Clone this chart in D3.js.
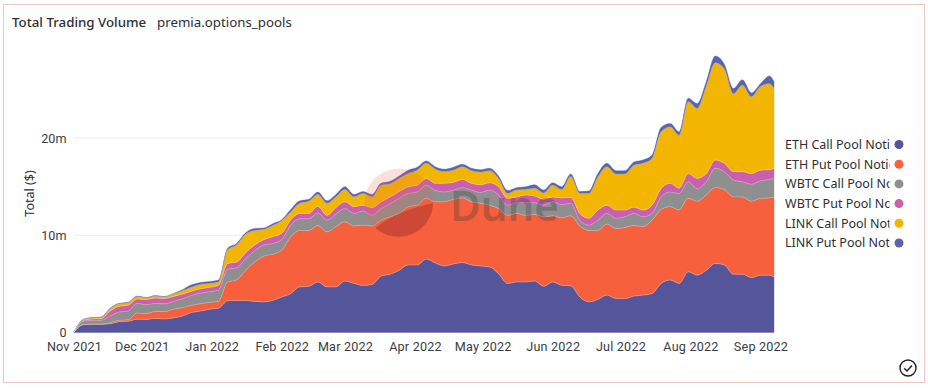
<!DOCTYPE html>
<html>
<head>
<meta charset="utf-8">
<script src="https://cdn.jsdelivr.net/npm/d3@7"></script>
<style>
  html, body { margin: 0; padding: 0; background: #fff; }
  text { font-family: "Noto Sans", sans-serif; fill: #2c2f33; }
</style>
</head>
<body>
<svg id="chart" width="928" height="388"></svg>
<script>
const names = ['ETH Call Pool Notional', 'ETH Put Pool Notional', 'WBTC Call Pool Notional', 'WBTC Put Pool Notional', 'LINK Call Pool Notional', 'LINK Put Pool Notional'];
const colors = ['#55559b', '#f6603d', '#8f8f8f', '#c95fae', '#f2b600', '#5a63ad'];

// sampled every 4 days from the picture, in millions
const ethCall = [.05,.8,.85,.85,.9,1.1,1.15,1.37,1.35,1.45,1.4,1.5,1.7,2.05,2.2,2.4,2.5,3.26,3.3,3.3,3.2,3.15,3.3,3.65,4,4.7,4.75,5.2,4.7,4.7,5.3,5.05,4.85,4.95,5.8,6,6.4,6.95,6.95,7.55,7.15,6.85,7.05,7.2,6.95,6.85,6.75,6.05,5.05,5.2,5.2,5.3,4.75,5.2,4.85,4.8,3.65,3.15,3.4,3.85,3.5,3.5,3.75,3.85,4,5.05,5.4,5.05,6.25,5.9,6.4,7.1,6.95,6,6,5.65,5.9,5.9,5.7];
const ethPut = [0,0,0,0,.1,.15,.15,.63,.6,.7,.75,.9,.85,.75,.75,.7,.7,1.94,2.1,3.1,4.05,4.7,4.75,4.8,5.85,5.8,5.75,5.8,5.65,6.2,6.1,5.9,6.2,6,5.75,5.9,5.85,6,6.15,6.25,6.3,6.6,6.65,6.65,6.5,6.45,6.35,6.7,7,7.05,6.85,6.85,7.15,6.8,6.95,7.2,7.3,7.35,7.1,7.3,7.2,7.3,7.25,7.05,7.55,7.6,7.55,7.55,7.55,7.6,7.75,7.8,7.75,7.95,7.95,7.85,7.9,7.95,8.25];
const wbtcCall = [0,.35,.4,.4,.7,.85,.9,1,.9,.85,.8,.8,.9,1,1.1,1.1,1.15,1.3,1.25,1.2,1.15,1.15,1.1,1.1,1.2,1.2,1.2,1.3,1.2,1.3,1.35,1.3,1.45,1.1,1.2,1.35,1.55,1.35,1.35,1.35,1.15,1,.95,1.05,1.2,1.1,1.55,1.4,1.05,1.1,1.3,1.2,1.2,1.45,1.35,1.3,.6,.55,1.05,1.1,1.05,1.1,1.25,1,.7,1.3,1.5,1.7,1.7,1.3,1.35,2,1.85,1.75,1.55,1.75,1.8,1.9,1.9];
const wbtcPut = [0,.1,.15,.17,.5,.6,.6,.45,.55,.55,.55,.5,.5,.45,.45,.45,.5,.6,.6,.6,.6,.55,.7,.65,.55,.55,.55,.7,.5,.65,.7,.7,.6,.8,.7,.7,.7,.7,.7,.7,.75,.9,.8,.85,.7,.8,.75,.85,.7,.6,.8,.7,.6,.5,.7,.6,.7,.7,1.05,.85,.85,.7,.65,.7,.85,.85,.9,.55,.85,1.05,.85,.85,.85,.85,1.05,1.1,1.1,1,1.05];
const linkCall = [0,.05,.1,.13,.25,.25,.25,.25,.15,.2,.15,.25,.35,.4,.45,.4,.35,1.4,1.75,1.9,1.5,1.05,1.15,1.3,.8,1.05,1.25,1.2,1.25,1.1,1.25,1,1.2,1.1,1.7,1.35,1.35,1.35,1.55,1.55,1.45,1.2,1.25,1.3,1.3,1.3,1.25,.85,.5,.7,.55,.8,.65,1.2,.85,2.15,2.05,2.55,3.4,3.95,3.7,3.7,4.3,4.8,4.8,5.85,5.8,5.45,7.4,7.2,8.95,10,9.7,8,8.9,7.9,8.6,8.85,8.2];
const linkPut = [0,.03,.05,.05,.05,.05,.05,.05,.05,.05,.05,.05,.1,.25,.2,.2,.2,.15,.15,.15,.2,.15,.2,.1,.25,.25,.2,.25,.25,.25,.3,.25,.2,.25,.2,.25,.25,.35,.3,.25,.25,.25,.3,.25,.25,.25,.25,.25,.3,.25,.3,.35,.3,.25,.3,.25,.2,.25,.35,.35,.35,.35,.35,.35,.35,.45,.35,.35,.35,.5,.5,.7,.5,.55,.55,.4,.3,.8,.7];
const seriesValues = [ethCall, ethPut, wbtcCall, wbtcPut, linkCall, linkPut];

const xTicks = ['2021-11-01', '2021-12-01', '2022-01-01', '2022-02-01', '2022-03-01', '2022-04-01', '2022-05-01', '2022-06-01', '2022-07-01', '2022-08-01', '2022-09-01'];
const yTicks = [0, 10, 20];

const parseDay = d3.utcParse('%Y-%m-%d');
const start = parseDay('2021-11-01');
const end = parseDay('2022-09-07');
const dates = d3.range(ethCall.length - 1).map(i => d3.utcDay.offset(start, i * 4)).concat([end]);

const svg = d3.select('#chart');

// card border
svg.append('rect')
  .attr('x', 3.5).attr('y', 4.5)
  .attr('width', 921).attr('height', 378)
  .attr('fill', '#fff')
  .attr('stroke', '#eec8c2');

const x = d3.scaleUtc().domain([start, end]).range([74, 774]);
const y = d3.scaleLinear().domain([0, 30]).range([332.5, 40.9]);

svg.append('g')
  .selectAll('line')
  .data(yTicks.filter(d => d > 0))
  .enter()
  .append('line')
  .attr('x1', 74).attr('x2', 774)
  .attr('y1', d => y(d)).attr('y2', d => y(d))
  .attr('stroke', '#ececec');

const rows = dates.map((d, i) => {
  const row = { date: d };
  names.forEach((n, k) => { row[n] = seriesValues[k][i]; });
  return row;
});

const stacked = d3.stack().keys(names)(rows);

const area = d3.area()
  .curve(d3.curveMonotoneX)
  .x(d => x(d.data.date))
  .y0(d => y(d[0]))
  .y1(d => y(d[1]));

svg.append('g')
  .selectAll('path')
  .data(stacked)
  .enter()
  .append('path')
  .attr('d', area)
  .attr('fill', (d, i) => colors[i])
  .attr('stroke', (d, i) => colors[i])
  .attr('stroke-width', 0.4);

// thin pale seam on top of each layer
const topLine = d3.line()
  .curve(d3.curveMonotoneX)
  .x(d => x(d.data.date))
  .y(d => y(d[1]));

svg.append('g')
  .selectAll('path')
  .data(stacked.slice(0, 5))
  .enter()
  .append('path')
  .attr('d', topLine)
  .attr('fill', 'none')
  .attr('stroke', '#fff')
  .attr('stroke-opacity', 0.3)
  .attr('stroke-width', 0.8);

// axes
const xAxis = d3.axisBottom(x)
  .tickValues(xTicks.map(parseDay))
  .tickFormat(d3.utcFormat('%b %Y'))
  .tickSize(0)
  .tickPadding(0);

const xg = svg.append('g')
  .attr('transform', 'translate(0,342.5)')
  .call(xAxis);
xg.select('.domain').remove();
xg.selectAll('text')
  .attr('dy', '0.71em')
  .style('font-family', 'Roboto, sans-serif')
  .style('font-size', '12.6px')
  .style('letter-spacing', '0.2px')
  .style('fill', '#3a3d42');

const yAxis = d3.axisLeft(y)
  .tickValues(yTicks)
  .tickFormat(d => d === 0 ? '0' : d + 'm')
  .tickSize(0)
  .tickPadding(0);

const yg = svg.append('g')
  .attr('transform', 'translate(66.5,0)')
  .call(yAxis);
yg.select('.domain').remove();
yg.selectAll('text')
  .style('font-family', 'Roboto, sans-serif')
  .style('font-size', '12.6px')
  .style('fill', '#3a3d42');

svg.append('text')
  .attr('transform', 'translate(33.5,193.5) rotate(-90)')
  .attr('text-anchor', 'middle')
  .style('font-size', '12.5px')
  .text('Total ($)');

// title
svg.append('text')
  .attr('x', 12).attr('y', 27)
  .style('font-size', '13.3px')
  .style('font-weight', 500)
  .text('Total Trading Volume');

svg.append('text')
  .attr('x', 157).attr('y', 27)
  .style('font-size', '13.3px')
  .text('premia.options_pools');

// legend, labels get cut off like in the original
svg.append('defs').append('clipPath')
  .attr('id', 'legend-clip')
  .append('rect')
  .attr('x', 780).attr('y', 130)
  .attr('width', 109.5).attr('height', 125);

const legendY = d3.scalePoint().domain(names).range([144.5, 243]);

const legend = svg.append('g');
legend.append('g')
  .attr('clip-path', 'url(#legend-clip)')
  .selectAll('text')
  .data(names)
  .enter()
  .append('text')
  .attr('x', 785)
  .attr('y', d => legendY(d))
  .attr('dy', '0.35em')
  .style('font-size', '12.5px')
  .text(d => d);

legend.selectAll('circle')
  .data(names)
  .enter()
  .append('circle')
  .attr('cx', 899)
  .attr('cy', d => legendY(d))
  .attr('r', 4.5)
  .attr('fill', (d, i) => colors[i]);

// watermark
const mark = svg.append('g').attr('pointer-events', 'none');
mark.append('circle')
  .attr('cx', 399).attr('cy', 203).attr('r', 34.5)
  .attr('fill', '#f0604a').attr('fill-opacity', 0.2);
mark.append('path')
  .attr('d', 'M375.5 228 C392 214 412 208 433 203 A34.5 34.5 0 0 1 375.5 228 Z')
  .attr('fill', '#b23a30').attr('fill-opacity', 0.6);
mark.append('text')
  .attr('x', 450).attr('y', 221)
  .style('font-size', '42px')
  .style('font-weight', 600)
  .style('fill', '#333')
  .style('fill-opacity', 0.3)
  .text('Dune');

// check icon
const check = svg.append('g').attr('transform', 'translate(908,368)');
check.append('circle')
  .attr('r', 8).attr('fill', 'none').attr('stroke', '#222').attr('stroke-width', 1.4);
check.append('path')
  .attr('d', 'M-3.8 0.2 L-1 3 L4 -2.6')
  .attr('fill', 'none').attr('stroke', '#222').attr('stroke-width', 1.5);
</script>
</body>
</html>
